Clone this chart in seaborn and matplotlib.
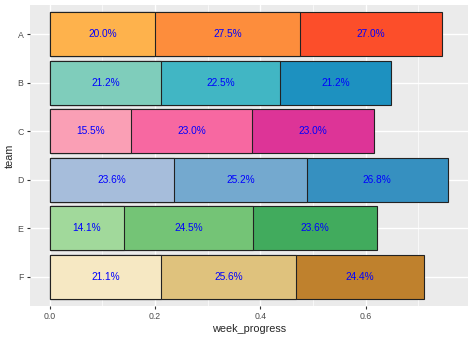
import numpy as np
import pandas as pd
import matplotlib
matplotlib.use("Agg")
import matplotlib.pyplot as plt
from matplotlib.ticker import MultipleLocator
import seaborn as sns

teams = ["A", "B", "C", "D", "E", "F"]
# share of week for each of the three segments per team
seg1 = [0.200, 0.212, 0.155, 0.236, 0.141, 0.211]
seg2 = [0.275, 0.225, 0.230, 0.252, 0.245, 0.256]
seg3 = [0.270, 0.212, 0.230, 0.268, 0.236, 0.244]

# per-team colour ramps (light -> dark)
pal1 = ["#FEB24C", "#7FCDBB", "#FA9FB5", "#A6BDDB", "#A1D99B", "#F6E8C3"]
pal2 = ["#FD8D3C", "#41B6C4", "#F768A1", "#74A9CF", "#74C476", "#DFC27D"]
pal3 = ["#FC4E2A", "#1D91C0", "#DD3497", "#3690C0", "#41AB5D", "#BF812D"]

df = pd.DataFrame({"team": teams, "s1": seg1, "s2": seg2, "s3": seg3})
df["c1"] = df["s1"]
df["c2"] = df["s1"] + df["s2"]
df["c3"] = df["c2"] + df["s3"]

sns.set_theme(style="darkgrid", rc={
    "axes.facecolor": "#EBEBEB",
    "grid.color": "white",
    "grid.linewidth": 1.0,
    "axes.edgecolor": "#EBEBEB",
})
plt.rcParams["font.family"] = ["Liberation Sans", "DejaVu Sans"]

fig, ax = plt.subplots(figsize=(4.74, 3.38), dpi=100)
fig.subplots_adjust(left=0.063, right=0.987, top=0.985, bottom=0.095)

# draw cumulative bars back to front so they look stacked
for col, pal in [("c3", pal3), ("c2", pal2), ("c1", pal1)]:
    sns.barplot(data=df, x=col, y="team", hue="team", palette=pal,
                saturation=1, legend=False, width=0.9, edgecolor="#222222",
                linewidth=0.8, orient="h", ax=ax)

for i, row in df.iterrows():
    starts = [0, row["c1"], row["c2"]]
    for s, v in zip(starts, [row["s1"], row["s2"], row["s3"]]):
        ax.text(s + v / 2, i, f"{v * 100:.1f}%", ha="center", va="center",
                color="blue", fontsize=7.3)

ax.set_xlim(-0.0378, 0.794)
ax.set_ylim(5.6, -0.6)
ax.xaxis.set_major_locator(MultipleLocator(0.2))
ax.xaxis.set_minor_locator(MultipleLocator(0.1))
ax.set_xticks([0.0, 0.2, 0.4, 0.6])
ax.set_xticklabels(["0.0", "0.2", "0.4", "0.6"])
ax.grid(which="minor", axis="x", color="white", linewidth=0.5)
ax.grid(which="major", color="white", linewidth=1.0)
ax.set_axisbelow(True)

ax.tick_params(axis="both", which="major", length=2.5, width=0.8,
               color="#333333", labelsize=6.3, labelcolor="#4D4D4D", pad=2,
               bottom=True, left=True)
ax.tick_params(which="minor", length=0)
ax.set_xlabel("week_progress", fontsize=7.8, labelpad=2)
ax.set_ylabel("team", fontsize=7.8, labelpad=2)
for sp in ax.spines.values():
    sp.set_visible(False)

fig.savefig("out.png", dpi=100)
